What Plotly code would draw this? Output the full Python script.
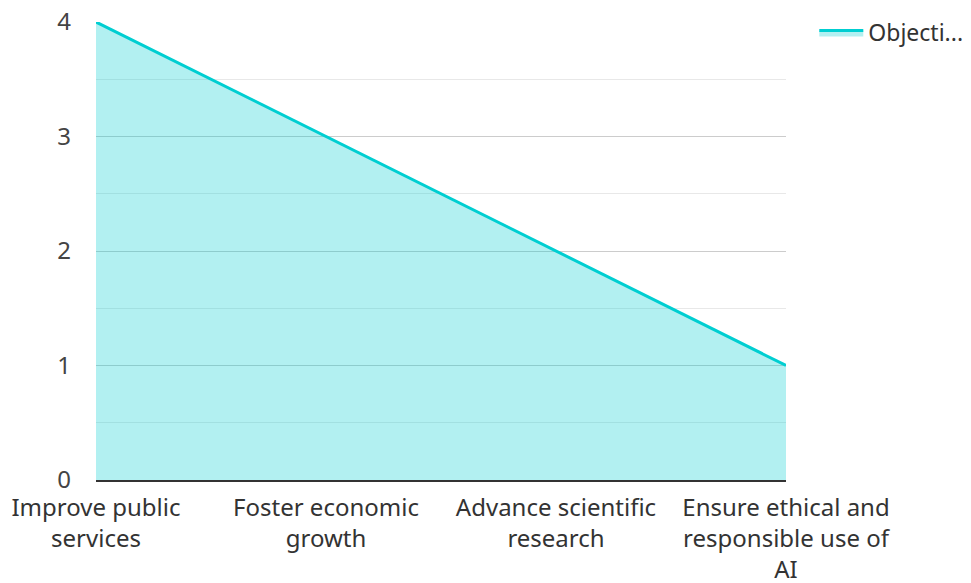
import plotly.graph_objects as go

categories = ["Improve public<br>services", "Foster economic<br>growth",
              "Advance scientific<br>research", "Ensure ethical and<br>responsible use of<br>AI"]
values = [4, 3, 2, 1]
series_name = "Objecti..."
y_ticks = [0, 1, 2, 3, 4]

fig = go.Figure()
fig.add_trace(go.Scatter(
    x=list(range(len(categories))), y=values, name=series_name,
    mode="lines", fill="tozeroy",
    line=dict(color="#00CED1", width=3),
    fillcolor="rgba(0,206,209,0.3)",
))

# page body has an 8px margin, so the figure is sized 963x575 to fill the 971x583 window
fig.update_layout(
    width=963, height=575,
    margin=dict(l=88, r=185, t=14, b=103, autoexpand=False),
    paper_bgcolor="white", plot_bgcolor="white",
    font=dict(family="Noto Sans", size=24, color="#333333"),
    showlegend=True,
    legend=dict(x=1.041, y=1.024, xanchor="left", yanchor="top", itemwidth=44,
                font=dict(size=23, color="#333333"), bgcolor="rgba(0,0,0,0)",
                borderwidth=0),
    xaxis=dict(
        tickmode="array", tickvals=list(range(len(categories))), ticktext=categories,
        range=[0, len(categories) - 1], showgrid=False, zeroline=False,
        showline=True, linecolor="#333333", linewidth=2, ticks="", ticklen=0,
        ticklabelstandoff=5, ticklabeloverflow="allow",
        tickfont=dict(size=24, color="#333333"), automargin=False,
    ),
    yaxis=dict(
        range=[0, 4], tickvals=y_ticks, showgrid=True, gridcolor="#cccccc", gridwidth=1,
        zeroline=False, showline=False, ticks="", ticklabelstandoff=24,
        ticklabeloverflow="allow",
        tickfont=dict(size=24, color="#444444"), automargin=False,
        minor=dict(dtick=0.5, showgrid=True, gridcolor="#e8e8e8", gridwidth=1),
    ),
)

fig.write_html("out.html")
